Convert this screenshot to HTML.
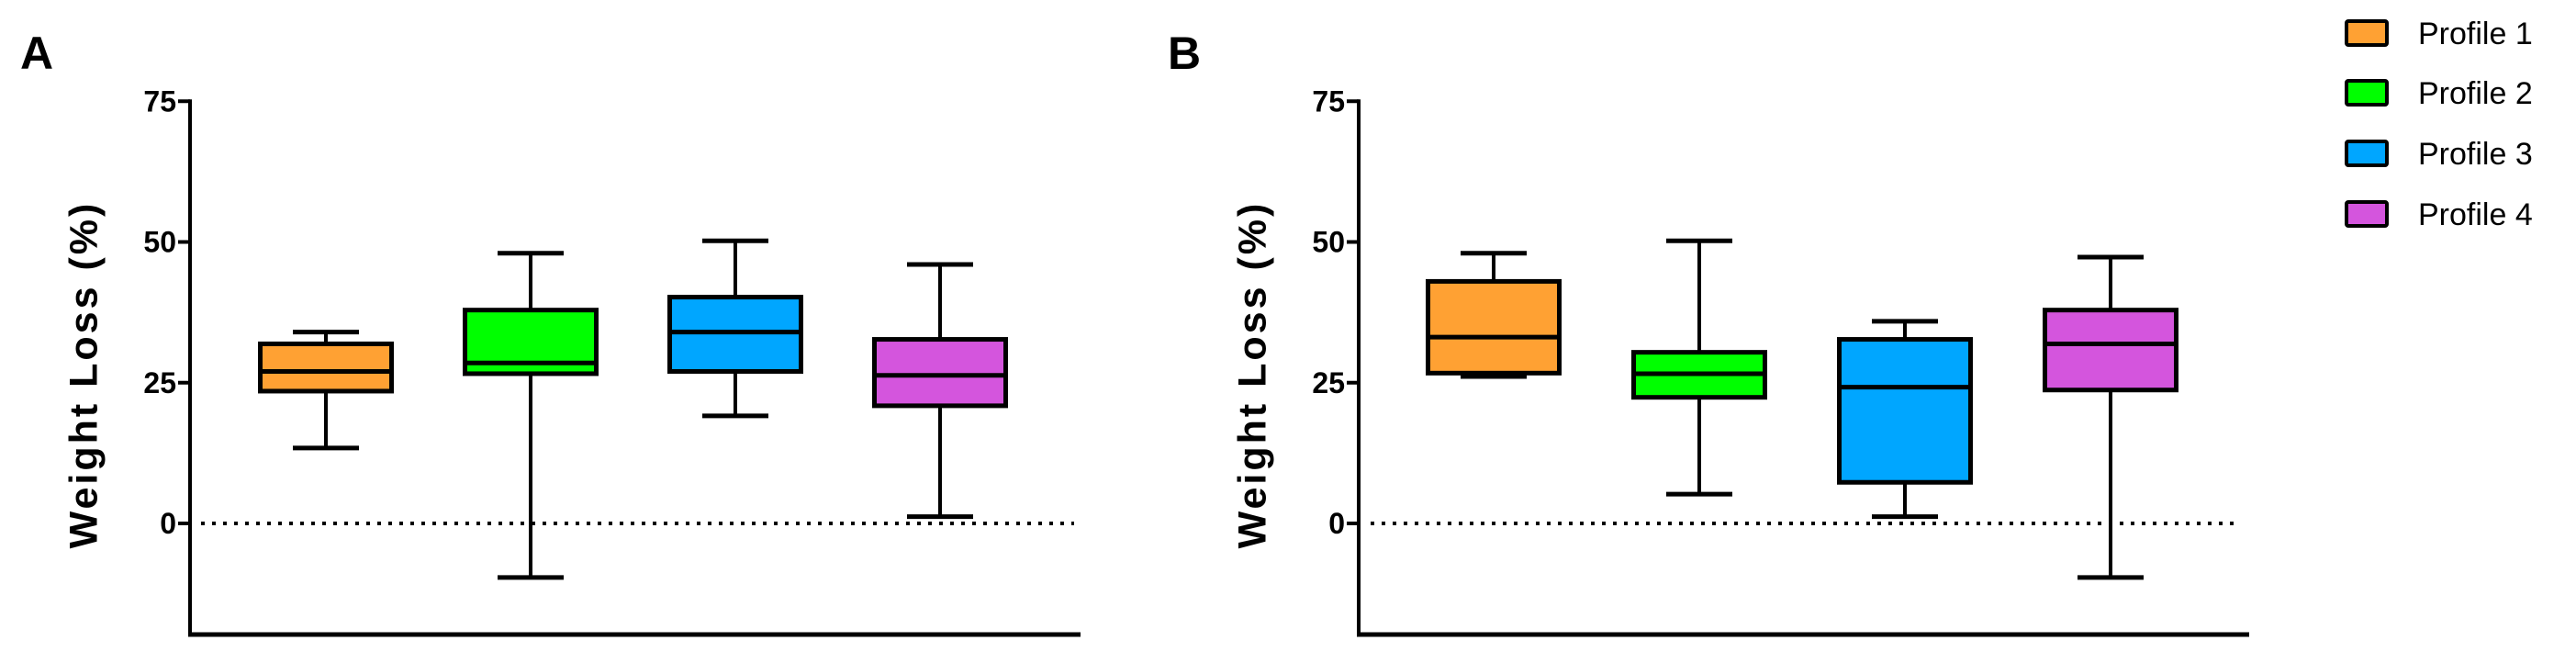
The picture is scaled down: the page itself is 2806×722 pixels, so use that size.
<!DOCTYPE html>
<html><head><meta charset="utf-8">
<style>
html,body{margin:0;padding:0;background:#fff;}
svg{display:block;font-family:"Liberation Sans",Arial,sans-serif;}
</style></head>
<body>
<svg id="chart" width="2806" height="722" viewBox="0 0 2806 722" xmlns="http://www.w3.org/2000/svg">
  <text x="22" y="75" font-size="50" font-weight="bold">A</text>
  <text x="1272" y="75" font-size="50" font-weight="bold">B</text>
</svg>
<script>
const categories = ["Profile 1","Profile 2","Profile 3","Profile 4"];
const colors = ["#ffa133","#00ff00","#00a6ff","#d455dd"];
const yTicks = [0,25,50,75];
// panel A: [min, q1, median, q3, max]
const aMin = [13.4,-9.6,19.1,1.2];
const aQ1 = [23.5,26.6,27.0,20.9];
const aMed = [27.0,28.5,34.0,26.3];
const aQ3 = [31.9,37.9,40.2,32.7];
const aMax = [34.0,48.0,50.2,46.0];
// panel B
const bMin = [26.1,5.2,1.2,-9.6];
const bQ1 = [26.7,22.4,7.3,23.7];
const bMed = [33.1,26.6,24.2,31.9];
const bQ3 = [43.0,30.4,32.7,37.9];
const bMax = [48.0,50.2,35.9,47.3];

const NS="http://www.w3.org/2000/svg";
const svg=document.getElementById('chart');
function el(tag,attrs,parent){const e=document.createElementNS(NS,tag);for(const k in attrs)e.setAttribute(k,attrs[k]);(parent||svg).appendChild(e);return e;}
function y(v){return 570-v*6.13;}

function panel(key,ax,axEnd,dotStart,dotEnd,firstCenter,spacing,mins,q1,med,q3,maxs){
  const g=el('g',{});
  
  
  const yAxis=el('line',{x1:ax,y1:y(75)-2,x2:ax,y2:691,stroke:'#000','stroke-width':4},g);
  
  
  const xAxis=el('line',{x1:ax-2,y1:691,x2:axEnd,y2:691,stroke:'#000','stroke-width':5},g);
  
  
  yTicks.forEach(t=>{
    const tk=el('line',{x1:ax-13,y1:y(t),x2:ax,y2:y(t),stroke:'#000','stroke-width':4},g);
    
    
    const lb=el('text',{x:ax-15,y:y(t)+11,'font-size':32,'font-weight':'bold','text-anchor':'end'},g);
    lb.textContent=t;
    
    
  });
  const tx=ax-113, ty=408;
  const title=el('text',{x:tx,y:ty,'font-size':43,'font-weight':'bold','letter-spacing':3,'text-anchor':'middle',transform:`rotate(-90 ${tx} ${ty})`,'dominant-baseline':'middle'},g);
  title.textContent='Weight Loss (%)';
  
  
  const dl=el('line',{x1:dotStart,y1:y(0),x2:dotEnd,y2:y(0),stroke:'#000','stroke-width':4,'stroke-dasharray':'4 8'},g);
  
  
  categories.forEach((c,i)=>{
    const cx=firstCenter+i*spacing, bw=143, cw=72;
    const bg=el('g',{},g);
    
    
    el('line',{x1:cx,y1:y(maxs[i]),x2:cx,y2:y(q3[i]),stroke:'#000','stroke-width':4},bg);
    el('line',{x1:cx,y1:y(q1[i]),x2:cx,y2:y(mins[i]),stroke:'#000','stroke-width':4},bg);
    el('line',{x1:cx-cw/2,y1:y(maxs[i]),x2:cx+cw/2,y2:y(maxs[i]),stroke:'#000','stroke-width':5},bg);
    el('line',{x1:cx-cw/2,y1:y(mins[i]),x2:cx+cw/2,y2:y(mins[i]),stroke:'#000','stroke-width':5},bg);
    el('rect',{x:cx-bw/2,y:y(q3[i]),width:bw,height:y(q1[i])-y(q3[i]),fill:colors[i],stroke:'#000','stroke-width':5},bg);
    el('line',{x1:cx-bw/2,y1:y(med[i]),x2:cx+bw/2,y2:y(med[i]),stroke:'#000','stroke-width':5},bg);
  });
}
panel('a',207,1177,219,1170,355,223,aMin,aQ1,aMed,aQ3,aMax);
panel('b',1480,2450,1493,2440,1627,224,bMin,bQ1,bMed,bQ3,bMax);

const legendY=[36,101,167,233];
categories.forEach((c,i)=>{
  const lg=el('g',{});
  
  
  el('rect',{x:2556,y:legendY[i]-13,width:44,height:26,fill:colors[i],stroke:'#000','stroke-width':4,rx:2},lg);
  const t=el('text',{x:2634,y:legendY[i]+12,'font-size':34},lg);
  t.textContent=c;
});
</script>
</body></html>
